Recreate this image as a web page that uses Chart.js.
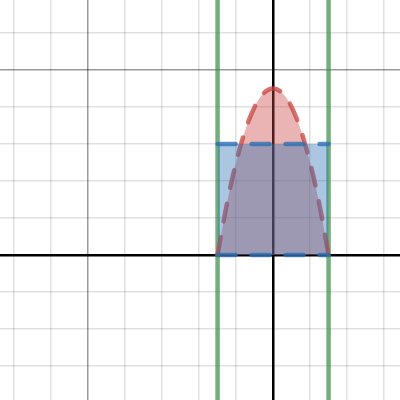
<!DOCTYPE html>
<html>
<head>
<meta charset="utf-8">
<script src="https://cdn.jsdelivr.net/npm/chart.js@4"></script>
<style>
  html, body { margin: 0; padding: 0; background: #fff; }
  #wrap { width: 400px; height: 400px; }
</style>
</head>
<body>
<div id="wrap"><canvas id="graph"></canvas></div>
<script>
// parabola points
const curveX = [-1.5, -1.25, -1, -0.75, -0.5, -0.25, 0, 0.25, 0.5, 0.75, 1, 1.25, 1.5];
const curveY = [0, 1.375, 2.5, 3.375, 4, 4.375, 4.5, 4.375, 4, 3.375, 2.5, 1.375, 0];

// rectangle (average value) and the two bounds
const boundX = [-1.5, 1.5];
const rectTop = [3, 3];
const rectBottom = [0, 0];

// visible window
const xRange = [-7.38, 3.43];
const yRange = [-3.92, 6.89];
const gridTicks = [-7, -6, -5, -4, -3, -2, -1, 0, 1, 2, 3, 4, 5, 6];

const blueLine = 'rgba(45,112,179,0.8)';
const green = 'rgba(56,140,70,0.7)';

function pts(xs, ys) {
  return xs.map((x, i) => ({ x: x, y: ys[i] }));
}

function gridColor(ctx) {
  const v = ctx.tick.value;
  if (v === 0) return '#000';
  if (v % 5 === 0) return 'rgba(0,0,0,0.4)';
  return 'rgba(0,0,0,0.12)';
}
function gridWidth(ctx) {
  return ctx.tick.value === 0 ? 2.5 : 1.5;
}

function axis(range) {
  return {
    type: 'linear',
    min: range[0],
    max: range[1],
    afterBuildTicks: s => {
      s.ticks = gridTicks.filter(v => v > range[0] && v < range[1]).map(v => ({ value: v }));
    },
    ticks: { display: false },
    border: { display: false },
    grid: { color: gridColor, lineWidth: gridWidth, drawTicks: false }
  };
}

const ymin = yRange[0], ymax = yRange[1];

new Chart(document.getElementById('graph'), {
  type: 'scatter',
  data: {
    datasets: [
      {
        // blue rectangle: fill down to y=0, dashed top edge
        data: pts(boundX, rectTop),
        showLine: true,
        fill: 'origin',
        backgroundColor: 'rgba(45,112,179,0.4)',
        borderColor: blueLine,
        borderWidth: 4.5,
        borderDash: [18, 16],
        borderCapStyle: 'round',
        pointRadius: 0
      },
      {
        // bottom edge of rectangle
        data: pts(boundX, rectBottom),
        showLine: true,
        fill: false,
        borderColor: blueLine,
        borderWidth: 4.5,
        borderDash: [18, 16],
        borderCapStyle: 'round',
        pointRadius: 0
      },
      {
        // parabola
        data: pts(curveX, curveY),
        showLine: true,
        fill: 'origin',
        cubicInterpolationMode: 'monotone',
        backgroundColor: 'rgba(199,68,64,0.4)',
        borderColor: 'rgba(199,68,64,0.75)',
        borderWidth: 4.5,
        borderDash: [18, 16],
        borderCapStyle: 'round',
        pointRadius: 0
      },
      {
        data: pts([boundX[0], boundX[0]], [ymin, ymax]),
        showLine: true,
        borderColor: green,
        borderWidth: 4.5,
        pointRadius: 0
      },
      {
        data: pts([boundX[1], boundX[1]], [ymin, ymax]),
        showLine: true,
        borderColor: green,
        borderWidth: 4.5,
        pointRadius: 0
      }
    ]
  },
  options: {
    responsive: true,
    maintainAspectRatio: false,
    animation: false,
    layout: { padding: 0 },
    plugins: { legend: { display: false }, tooltip: { enabled: false } },
    scales: { x: axis(xRange), y: axis(yRange) }
  }
});
</script>
</body>
</html>
